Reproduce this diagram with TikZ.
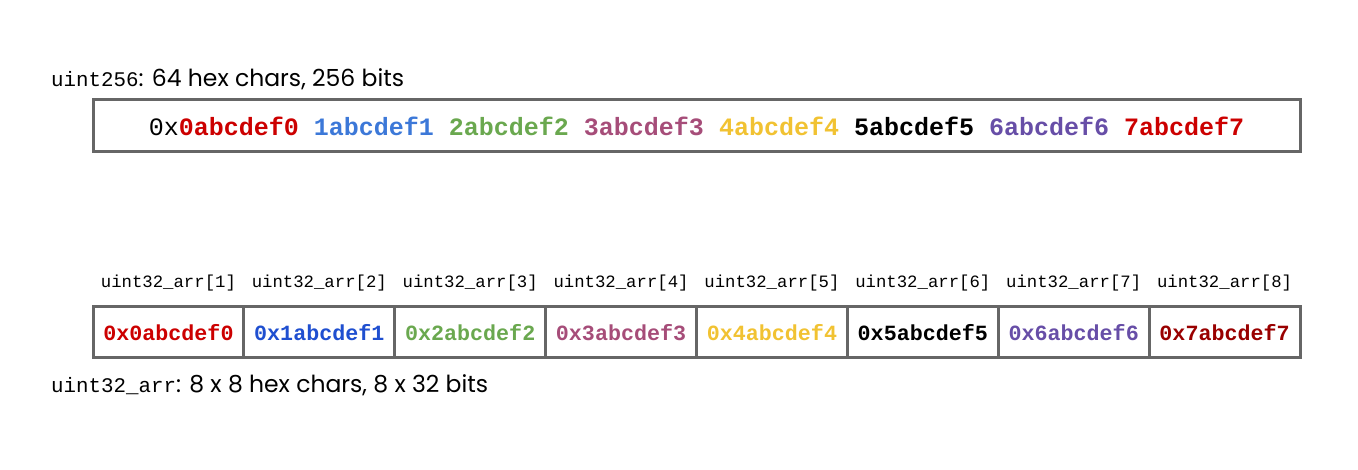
\documentclass[tikz,border=0pt]{standalone}
\usepackage{fontspec}
\setmainfont{Poppins}
\setmonofont{Liberation Mono}
\definecolor{cred}{HTML}{CC0000}
\definecolor{cbluet}{HTML}{3C78D8}
\definecolor{cblueb}{HTML}{1F4FD0}
\definecolor{cgreen}{HTML}{6AA84F}
\definecolor{cmag}{HTML}{A64D79}
\definecolor{cyel}{HTML}{F1C232}
\definecolor{cpur}{HTML}{674EA7}
\definecolor{cdred}{HTML}{990000}
\definecolor{cborder}{HTML}{666666}
\newcommand{\monolbl}[1]{{\fontsize{20.8}{25}\selectfont\ttfamily #1}}
\begin{document}
\begin{tikzpicture}[x=1pt,y=-1pt,
  title/.style={anchor=base west,inner sep=0pt,font=\fontsize{23.5}{28}\selectfont},
  cell/.style={draw=cborder,line width=3pt,minimum width=150.875pt,minimum height=51pt,inner sep=0pt,font=\fontsize{21.7}{26}\selectfont\ttfamily\bfseries},
  idx/.style={inner sep=0pt,font=\fontsize{17.3}{20}\selectfont\ttfamily},
  bigbox/.style={draw=cborder,line width=3pt,minimum width=1207pt,minimum height=52pt,inner sep=0pt,font=\fontsize{25}{30}\selectfont\ttfamily}]
\useasboundingbox (0,0) rectangle (1358,470);
\node[title] (t1) at (51,87) {\monolbl{uint256}: 64 hex chars, 256 bits};
\node[bigbox] (big) at (696.5,126) {0x\bfseries\textcolor{cred}{0abcdef0} \textcolor{cbluet}{1abcdef1} \textcolor{cgreen}{2abcdef2} \textcolor{cmag}{3abcdef3} \textcolor{cyel}{4abcdef4} \textcolor{black}{5abcdef5} \textcolor{cpur}{6abcdef6} \textcolor{cred}{7abcdef7}};
\foreach \i/\c in {0/cred,1/cblueb,2/cgreen,3/cmag,4/cyel,5/black,6/cpur,7/cdred}{
  \pgfmathsetmacro{\cx}{93+150.875*(\i+0.5)}
  \pgfmathtruncatemacro{\k}{\i+1}
  \node[cell,text=\c] (c\i) at (\cx,332.5) {0x\i abcdef\i};
  \node[idx] (l\i) at (\cx,283) {uint32\_arr[\k]};
}
\node[title] (t2) at (51,392) {\monolbl{uint32\_arr}: 8 x 8 hex chars, 8 x 32 bits};
\end{tikzpicture}
\end{document}
